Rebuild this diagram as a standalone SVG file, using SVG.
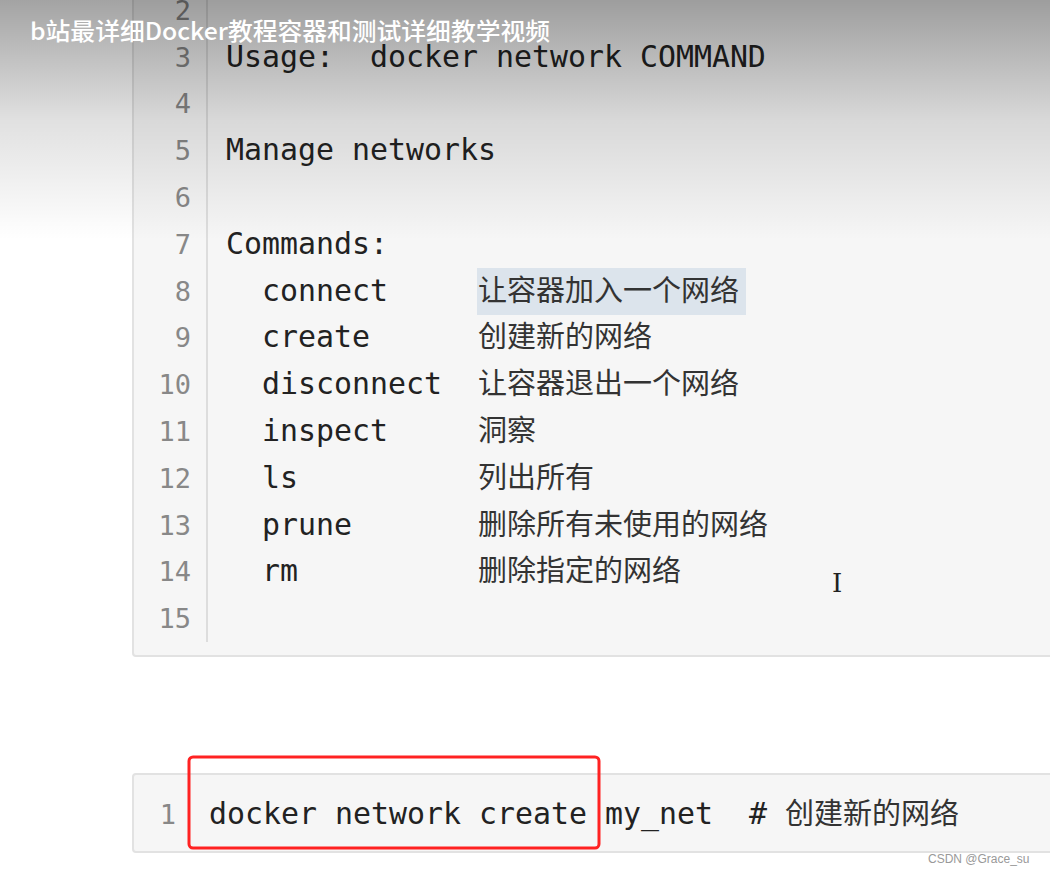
<svg xmlns="http://www.w3.org/2000/svg" width="1050" height="874" viewBox="0 0 1050 874">
<defs>
<linearGradient id="shade" x1="0" y1="0" x2="0" y2="1">
<stop offset="0" stop-color="#000" stop-opacity="0.36"/>
<stop offset="0.5" stop-color="#000" stop-opacity="0.12"/>
<stop offset="1" stop-color="#000" stop-opacity="0"/>
</linearGradient>
</defs>
<style>
.code{font-family:"DejaVu Sans Mono","Liberation Mono",monospace;font-size:29.9px;fill:#222}
.num{font-family:"DejaVu Sans Mono","Liberation Mono",monospace;font-size:27px;fill:#888;text-anchor:end}
.cn{font-family:"Noto Sans CJK SC",sans-serif;font-size:29px;fill:#333}
</style>
<rect width="1050" height="874" fill="#fff"/>
<g id="block1">
<rect x="133" y="-5" width="930" height="661" rx="3" fill="#f6f6f6" stroke="#e2e2e2" stroke-width="2"/>
<line x1="207" y1="0" x2="207" y2="642" stroke="#ddd" stroke-width="2"/>
<rect x="477" y="268" width="269" height="47" fill="#dce4ec"/>
<g>
<text class="num" x="191" y="20">2</text>
<text class="num" x="191" y="67">3</text>
<text class="num" x="191" y="113">4</text>
<text class="num" x="191" y="160">5</text>
<text class="num" x="191" y="207">6</text>
<text class="num" x="191" y="254">7</text>
<text class="num" x="191" y="301">8</text>
<text class="num" x="191" y="347">9</text>
<text class="num" x="191" y="394">10</text>
<text class="num" x="191" y="441">11</text>
<text class="num" x="191" y="488">12</text>
<text class="num" x="191" y="535">13</text>
<text class="num" x="191" y="581">14</text>
<text class="num" x="191" y="628">15</text>
</g>
<text class="code" x="226" y="67" xml:space="preserve">Usage:  docker network COMMAND</text>
<text class="code" x="226" y="160">Manage networks</text>
<text class="code" x="226" y="254">Commands:</text>
<text class="code" x="262" y="301">connect</text>
<text class="code" x="262" y="347">create</text>
<text class="code" x="262" y="394">disconnect</text>
<text class="code" x="262" y="441">inspect</text>
<text class="code" x="262" y="488">ls</text>
<text class="code" x="262" y="535">prune</text>
<text class="code" x="262" y="581">rm</text>
<text class="cn" x="478" y="301">让容器加入一个网络</text>
<text class="cn" x="478" y="347">创建新的网络</text>
<text class="cn" x="478" y="394">让容器退出一个网络</text>
<text class="cn" x="478" y="441">洞察</text>
<text class="cn" x="478" y="488">列出所有</text>
<text class="cn" x="478" y="535">删除所有未使用的网络</text>
<text class="cn" x="478" y="581">删除指定的网络</text>
<text x="832" y="592" font-family="DejaVu Serif,serif" font-size="26" fill="#222">I</text>
</g>
<rect x="0" y="0" width="1050" height="240" fill="url(#shade)"/>
<text x="30" y="40" font-family="Noto Sans CJK SC,sans-serif" font-size="24" font-weight="500" fill="#fff" textLength="520" lengthAdjust="spacingAndGlyphs">b站最详细Docker教程容器和测试详细教学视频</text>
<g id="block2">
<rect x="133" y="774" width="930" height="78" rx="3" fill="#f6f6f6" stroke="#e2e2e2" stroke-width="2"/>
<text class="num" x="176" y="824">1</text>
<text class="code" x="209" y="824" xml:space="preserve" textLength="558">docker network create my_net  #</text>
<text class="cn" x="785" y="824">创建新的网络</text>
<rect x="189" y="757" width="410" height="91" rx="4" fill="none" stroke="#f22" stroke-width="3"/>
</g>
<text x="928" y="863" font-family="Liberation Sans,sans-serif" font-size="12" fill="#999">CSDN @Grace_su</text>
</svg>
